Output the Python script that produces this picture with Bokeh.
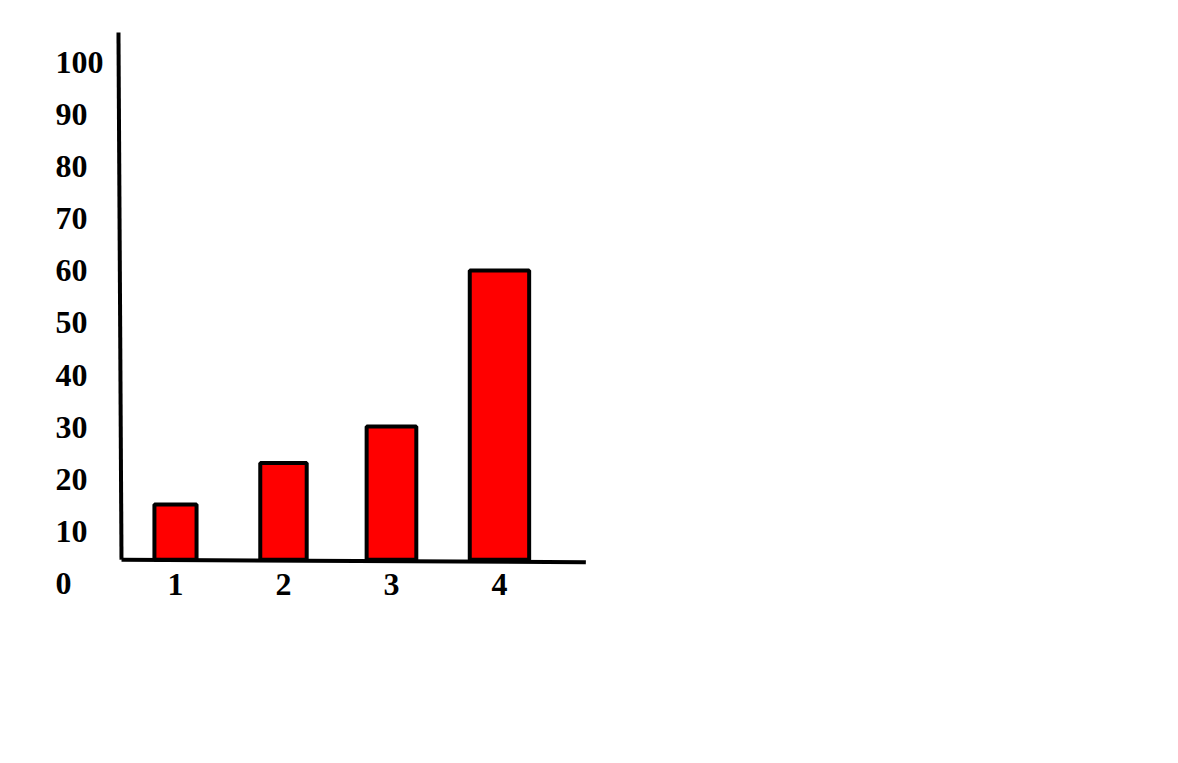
from bokeh.plotting import figure
from bokeh.models import LinearAxis, FixedTicker, Range1d
from bokeh.embed import file_html
from bokeh.resources import INLINE

# data
categories = [1, 2, 3, 4]
values = [15, 23, 30, 60]
y_ticks = [0, 10, 20, 30, 40, 50, 60, 70, 80, 90, 100]

# style
bar_widths = [0.39, 0.43, 0.46, 0.55]
baseline = 4.4
FONT = "Liberation Serif"
FIG_SPACE = "\u2007"

p = figure(width=1160, height=745, output_backend="svg", toolbar_location=None,
           x_range=Range1d(0.4167, 4.806), y_range=Range1d(-4.42, 106.15),
           x_axis_location=None, y_axis_location=None,
           min_border_left=112, min_border_top=30, min_border_right=574,
           min_border_bottom=140)
p.outline_line_color = None
p.xgrid.visible = False
p.ygrid.visible = False
p.background_fill_color = "white"
p.border_fill_color = "white"

# axes (labels only; lines drawn as hand-drawn strokes)
# labels padded with figure spaces so they appear left-aligned like the original
width_max = max(len(str(t)) for t in y_ticks)
yax = LinearAxis(ticker=FixedTicker(ticks=y_ticks))
yax.major_label_overrides = {t: str(t) + FIG_SPACE * (width_max - len(str(t))) for t in y_ticks}
yax.axis_line_color = None
yax.major_tick_line_color = None
yax.minor_tick_line_color = None
yax.major_tick_out = 0
yax.major_label_standoff = 9
yax.major_label_text_font = FONT
yax.major_label_text_font_style = "bold"
yax.major_label_text_font_size = "32px"
yax.major_label_text_color = "black"
p.add_layout(yax, "left")

xax = LinearAxis(ticker=FixedTicker(ticks=categories), fixed_location=baseline)
xax.axis_line_color = None
xax.major_tick_line_color = None
xax.minor_tick_line_color = None
xax.major_tick_out = 0
xax.major_label_standoff = 14
xax.major_label_text_font = FONT
xax.major_label_text_font_style = "bold"
xax.major_label_text_font_size = "32px"
xax.major_label_text_color = "black"
p.add_layout(xax, "below")

# bars
p.vbar(x=categories, top=values, bottom=baseline, width=bar_widths,
       fill_color="#ff0000", line_color="black", line_width=4)

# axis strokes
p.segment(x0=[0.472, 0.5], y0=[105.77, baseline], x1=[0.5, 4.8], y1=[baseline, baseline - 0.5],
          line_color="black", line_width=4)

open("out.html", "w").write(file_html(p, INLINE))
